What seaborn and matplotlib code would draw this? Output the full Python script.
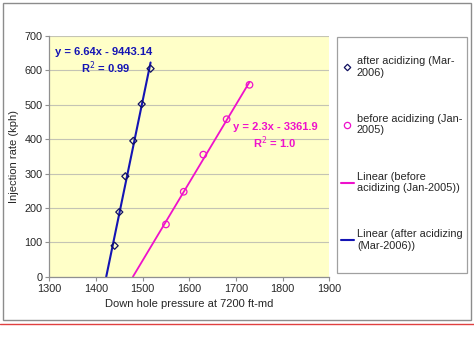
import numpy as np
import pandas as pd
import matplotlib.pyplot as plt
import seaborn as sns
from matplotlib.patches import Rectangle
from matplotlib.lines import Line2D

after_pressure = [1440, 1450, 1463, 1480, 1498, 1517]
after_rate = [90, 188, 292, 395, 502, 605]
before_pressure = [1550, 1588, 1630, 1680, 1729]
before_rate = [152, 247, 355, 458, 558]

after_label = "after acidizing (Mar-\n2006)"
before_label = "before acidizing (Jan-\n2005)"
lin_before_label = "Linear (before\nacidizing (Jan-2005))"
lin_after_label = "Linear (after acidizing\n(Mar-2006))"
eq_after = ["y = 6.64x - 9443.14", "R$^2$ = 0.99"]
eq_before = ["y = 2.3x - 3361.9", "R$^2$ = 1.0"]

blue = "#1414B4"
pink = "#EE11CC"

sns.set_theme(style="white")
plt.rcParams["font.family"] = ["Liberation Sans", "DejaVu Sans"]


def trend(x, y):
    # excel style trendline: from y=0 up to the last point
    m, b = np.polyfit(x, y, 1)
    xs = np.array([-b / m, max(x)])
    return pd.DataFrame({"x": xs, "y": m * xs + b})


fig = plt.figure(figsize=(4.74, 3.64), dpi=100)
ax = fig.add_axes([49.3 / 474, 1 - 276.7 / 364, 280 / 474, 240.7 / 364])
ax.set_facecolor("#FFFFC8")

fa = trend(after_pressure, after_rate)
fb = trend(before_pressure, before_rate)
sns.lineplot(data=fb, x="x", y="y", color=pink, lw=1.3, ax=ax, zorder=2)
sns.lineplot(data=fa, x="x", y="y", color=blue, lw=1.5, ax=ax, zorder=2)

df_a = pd.DataFrame({"p": after_pressure, "r": after_rate})
df_b = pd.DataFrame({"p": before_pressure, "r": before_rate})
sns.scatterplot(data=df_a, x="p", y="r", marker="D", s=13, facecolor="none",
                edgecolor="#101060", linewidth=0.9, ax=ax, zorder=3)
sns.scatterplot(data=df_b, x="p", y="r", marker="o", s=22, facecolor="none",
                edgecolor=pink, linewidth=0.9, ax=ax, zorder=3)

ax.set_xlim(1300, 1900)
ax.set_ylim(0, 700)
ax.set_xticks(range(1300, 2000, 100))
ax.set_yticks(range(0, 800, 100))
ax.grid(axis="y", color="#C4C4B4", lw=0.8)
ax.grid(axis="x", visible=False)
for s in ["top", "right"]:
    ax.spines[s].set_visible(False)
for s in ["left", "bottom"]:
    ax.spines[s].set_color("#909090")
    ax.spines[s].set_linewidth(0.9)
ax.tick_params(axis="both", direction="out", length=3, width=0.8, color="#909090",
               labelsize=7.8, left=True, bottom=True, pad=2)
ax.set_xlabel("Down hole pressure at 7200 ft-md", fontsize=8, labelpad=4)
ax.set_ylabel("Injection rate (kph)", fontsize=8, labelpad=4)

ax.text(1312, 653, eq_after[0], color=blue, fontsize=8, fontweight="bold", va="center")
ax.text(1420, 609, eq_after[1], color=blue, fontsize=8, fontweight="bold", va="center", ha="center")
ax.text(1693, 436, eq_before[0], color=pink, fontsize=8, fontweight="bold", va="center")
ax.text(1783, 390, eq_before[1], color=pink, fontsize=8, fontweight="bold", va="center", ha="center")

# outer chart border and red rule under it
fig.patches.append(Rectangle((3 / 474, 1 - 320 / 364), 468 / 474, 317 / 364,
                             transform=fig.transFigure, fill=False, ec="#8C8C8C", lw=1))
fig.lines.append(Line2D([0, 1], [1 - 324 / 364] * 2, transform=fig.transFigure,
                        color="#E04040", lw=1))

# legend with its own frame
fig.patches.append(Rectangle((336.7 / 474, 1 - 272.7 / 364), 130.6 / 474, 235.7 / 364,
                             transform=fig.transFigure, fill=False, ec="#A0A0A0", lw=0.9))
handles = [
    Line2D([], [], ls="none", marker="D", ms=3.3, mfc="none", mec="#101060", mew=0.9),
    Line2D([], [], ls="none", marker="o", ms=4.5, mfc="none", mec=pink, mew=0.9),
    Line2D([], [], color=pink, lw=1.5),
    Line2D([], [], color=blue, lw=1.5),
]
labels = [after_label, before_label, lin_before_label, lin_after_label]
fig.legend(handles, labels, loc="upper left", bbox_to_anchor=(341 / 474, 1 - 56 / 364),
           frameon=False, fontsize=7.9, handlelength=1.15, handletextpad=0.3,
           labelspacing=3.3, borderpad=0, borderaxespad=0)

fig.savefig("out.png", dpi=100)
